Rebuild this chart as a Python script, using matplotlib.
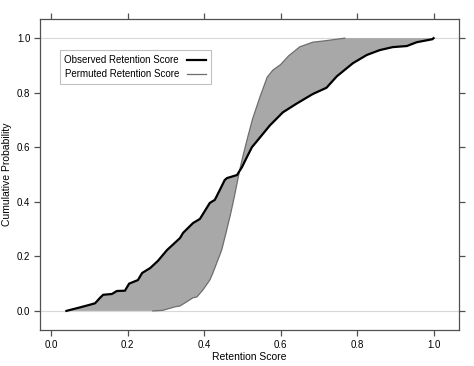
import numpy as np
import matplotlib
matplotlib.use("Agg")
import matplotlib.pyplot as plt

plt.rcParams['font.family'] = ['Liberation Sans', 'DejaVu Sans']

# observed retention score ECDF (black)
obs_x = [0.040, 0.076, 0.100, 0.115, 0.128, 0.136, 0.159, 0.172, 0.193, 0.204,
         0.227, 0.238, 0.259, 0.279, 0.303, 0.337, 0.345, 0.371, 0.389, 0.415,
         0.428, 0.441, 0.454, 0.460, 0.486, 0.499, 0.512, 0.525, 0.538, 0.572,
         0.606, 0.642, 0.684, 0.720, 0.747, 0.789, 0.825, 0.859, 0.893, 0.930,
         0.956, 0.997, 1.000]
obs_y = [0.000, 0.013, 0.022, 0.028, 0.048, 0.059, 0.062, 0.073, 0.074, 0.100,
         0.113, 0.139, 0.157, 0.183, 0.223, 0.267, 0.286, 0.322, 0.337, 0.396,
         0.407, 0.443, 0.480, 0.487, 0.498, 0.527, 0.564, 0.600, 0.622, 0.680,
         0.728, 0.760, 0.795, 0.818, 0.860, 0.908, 0.938, 0.956, 0.967, 0.971,
         0.985, 0.996, 1.000]

# permuted retention score ECDF (gray)
perm_x = [0.266, 0.292, 0.324, 0.337, 0.371, 0.381, 0.397, 0.415, 0.423, 0.446,
          0.458, 0.470, 0.480, 0.493, 0.501, 0.512, 0.527, 0.546, 0.565, 0.580,
          0.600, 0.621, 0.650, 0.684, 0.715, 0.747, 0.768]
perm_y = [0.000, 0.002, 0.015, 0.018, 0.048, 0.051, 0.077, 0.113, 0.139, 0.223,
          0.290, 0.360, 0.425, 0.516, 0.564, 0.626, 0.705, 0.784, 0.857, 0.883,
          0.903, 0.935, 0.968, 0.985, 0.990, 0.996, 1.000]

xticks = [0.0, 0.2, 0.4, 0.6, 0.8, 1.0]
yticks = [0.0, 0.2, 0.4, 0.6, 0.8, 1.0]

fig = plt.figure(figsize=(4.74, 3.66), dpi=100)
ax = fig.add_axes([0.0844, 0.0984, 0.8836, 0.8496])

# shaded region between the two curves
poly_x = obs_x + perm_x[::-1]
poly_y = obs_y + perm_y[::-1]
ax.fill(poly_x, poly_y, color='#a8a8a8', lw=0, zorder=1)

ax.axhline(0, color='#d8d8d8', lw=0.8, zorder=0)
ax.axhline(1, color='#d8d8d8', lw=0.8, zorder=0)

ax.plot(obs_x, obs_y, color='black', lw=1.6, zorder=3,
        label='Observed Retention Score')
ax.plot(perm_x, perm_y, color='#6e6e6e', lw=0.9, zorder=2,
        label='Permuted Retention Score')

ax.set_xlim(-0.029, 1.066)
ax.set_ylim(-0.07, 1.07)
ax.set_xticks(xticks)
ax.set_yticks(yticks)
ax.set_xticklabels(['%.1f' % v for v in xticks])
ax.set_yticklabels(['%.1f' % v for v in yticks])

for s in ax.spines.values():
    s.set_color('#505050')
    s.set_linewidth(0.9)
ax.tick_params(direction='out', length=4, width=0.9, color='#505050',
               labelsize=7, top=True, right=True, pad=3)

ax.set_xlabel('Retention Score', fontsize=7.5)
ax.set_ylabel('Cumulative Probability', fontsize=7.5)
ax.xaxis.set_label_coords(0.5, -0.071)
ax.yaxis.set_label_coords(-0.066, 0.5)

leg = ax.legend(loc='upper left', bbox_to_anchor=(0.035, 0.915), fontsize=7,
                markerfirst=False, fancybox=False, framealpha=1,
                edgecolor='#c0c0c0', handlelength=2.0, borderpad=0.5,
                labelspacing=0.4, handletextpad=0.8)
leg.get_frame().set_linewidth(0.8)

fig.savefig('out.png', dpi=100)
